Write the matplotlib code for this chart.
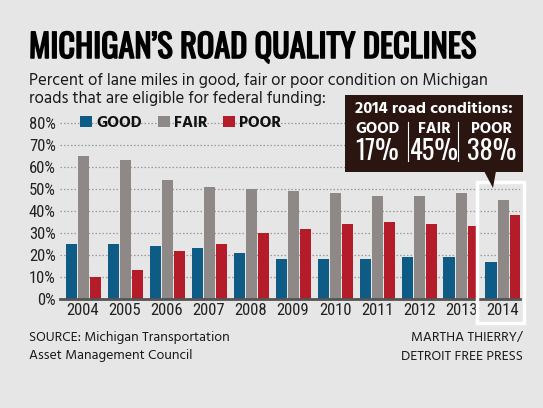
import matplotlib
matplotlib.use("Agg")
import matplotlib.pyplot as plt
import matplotlib.patheffects as pe
import numpy as np
from matplotlib.patches import Rectangle, Polygon

# data
years = ['2004', '2005', '2006', '2007', '2008', '2009', '2010', '2011', '2012', '2013', '2014']
good = [25, 25, 24, 23, 21, 18, 18, 18, 19, 19, 17]
fair = [65, 63, 54, 51, 50, 49, 48, 47, 47, 48, 45]
poor = [10, 13, 22, 25, 30, 32, 34, 35, 34, 33, 38]
yticks = [0, 10, 20, 30, 40, 50, 60, 70, 80]

BG = '#e6e6e6'
C_GOOD = '#0e5c86'
C_FAIR = '#8e8986'
C_POOR = '#b51c2a'
BOX = '#2a1511'

HEAD = ['Oswald', 'DejaVu Sans']
COND = ['Roboto Condensed', 'DejaVu Sans']
PLAIN = ['Hind', 'DejaVu Sans']

W, H = 543, 408
def fx(p):
    return p / W
def fy(p):
    return 1 - p / H

fig = plt.figure(figsize=(W / 100, H / 100), dpi=100, facecolor=BG)
ax = fig.add_axes([fx(60), fy(299), 460 / W, 180.4 / H])
ax.set_facecolor(BG)

x = np.arange(len(years))
bw = 11 / 42
off = 12 / 42
ax.bar(x - off, good, bw, color=C_GOOD, label='GOOD', zorder=3)
ax.bar(x, fair, bw, color=C_FAIR, label='FAIR', zorder=3)
ax.bar(x + off, poor, bw, color=C_POOR, label='POOR', zorder=3)

ax.set_xlim(-23 / 42, -23 / 42 + 460 / 42)
ax.set_ylim(0, 82)
ax.set_yticks(yticks)
ax.set_yticklabels([f'{v}%' for v in yticks], family=COND, fontsize=12, color='#222222')
ax.set_xticks(x)
ax.set_xticklabels(years, family=COND, fontsize=12, color='#222222')
ax.tick_params(length=0, pad=3)
ax.tick_params(axis='x', pad=3)
for v in yticks[1:]:
    ax.axhline(v, color='#999999', lw=0.9, ls=(0, (1.2, 1.6)), zorder=1)
for s in ['top', 'right', 'left']:
    ax.spines[s].set_visible(False)
ax.spines['bottom'].set_color('#555555')
ax.spines['bottom'].set_linewidth(2)
ax.spines['bottom'].set_zorder(4)

leg = ax.legend(loc='center left', bbox_to_anchor=(20 / 460, 80 / 82), ncol=3, frameon=False,
                handlelength=0.75, handleheight=0.75, handletextpad=0.25, columnspacing=1.0,
                borderaxespad=0, borderpad=0,
                prop={'family': PLAIN, 'weight': 'bold', 'size': 11.5})
for t in leg.get_texts():
    t.set_color('#111111')

# highlight frame around 2014
fig.add_artist(Rectangle((fx(477), fy(323)), 47 / W, 141 / H, transform=fig.transFigure,
                         fill=False, ec='white', lw=2.5, zorder=5))

# callout box
fig.add_artist(Rectangle((fx(345), fy(172)), 178 / W, 77 / H, transform=fig.transFigure,
                         fc=BOX, ec='none', zorder=6))
fig.add_artist(Polygon([(fx(484), fy(171)), (fx(496), fy(171)), (fx(493), fy(188))],
                       closed=True, transform=fig.transFigure, fc=BOX, ec='none', zorder=6))
fig.text(fx(434), fy(109), '2014 road conditions:', color='white', fontsize=11.8, weight='bold',
         family=PLAIN, ha='center', va='center', zorder=7)
for cx, lab, val in [(377, 'GOOD', good[-1]), (434, 'FAIR', fair[-1]), (492, 'POOR', poor[-1])]:
    fig.text(fx(cx), fy(129), lab, color='white', fontsize=11.2, weight='bold',
             family=PLAIN, ha='center', va='center', zorder=7)
    fig.text(fx(cx), fy(152), f'{val}%', color='white', fontsize=19,
             family=HEAD, ha='center', va='center', zorder=7)
for sx in [408, 458]:
    fig.add_artist(plt.Line2D([fx(sx), fx(sx)], [fy(122), fy(161)], transform=fig.transFigure,
                              color='white', lw=0.8, zorder=7))

# headings
fig.text(fx(29), fy(58), 'MICHIGAN\u2019S ROAD QUALITY DECLINES', fontsize=23.3,
         family=HEAD, color='black', ha='left', va='baseline',
         path_effects=[pe.withStroke(linewidth=1.1, foreground='black')])
fig.text(fx(29), fy(80), 'Percent of lane miles in good, fair or poor condition on Michigan',
         fontsize=12, family=PLAIN, color='#1a1a1a', ha='left', va='center')
fig.text(fx(29), fy(99), 'roads that are eligible for federal funding:',
         fontsize=12, family=PLAIN, color='#1a1a1a', ha='left', va='center')

# footer
fig.text(fx(29), fy(337), 'SOURCE: Michigan Transportation', fontsize=10, family=PLAIN,
         color='#1a1a1a', ha='left', va='center')
fig.text(fx(29), fy(356), 'Asset Management Council', fontsize=10, family=PLAIN,
         color='#1a1a1a', ha='left', va='center')
fig.text(fx(523), fy(337), 'MARTHA THIERRY/', fontsize=10, family=PLAIN,
         color='#1a1a1a', ha='right', va='center')
fig.text(fx(523), fy(356), 'DETROIT FREE PRESS', fontsize=10, family=PLAIN,
         color='#1a1a1a', ha='right', va='center')

fig.savefig('out.png', dpi=100, facecolor=BG)
